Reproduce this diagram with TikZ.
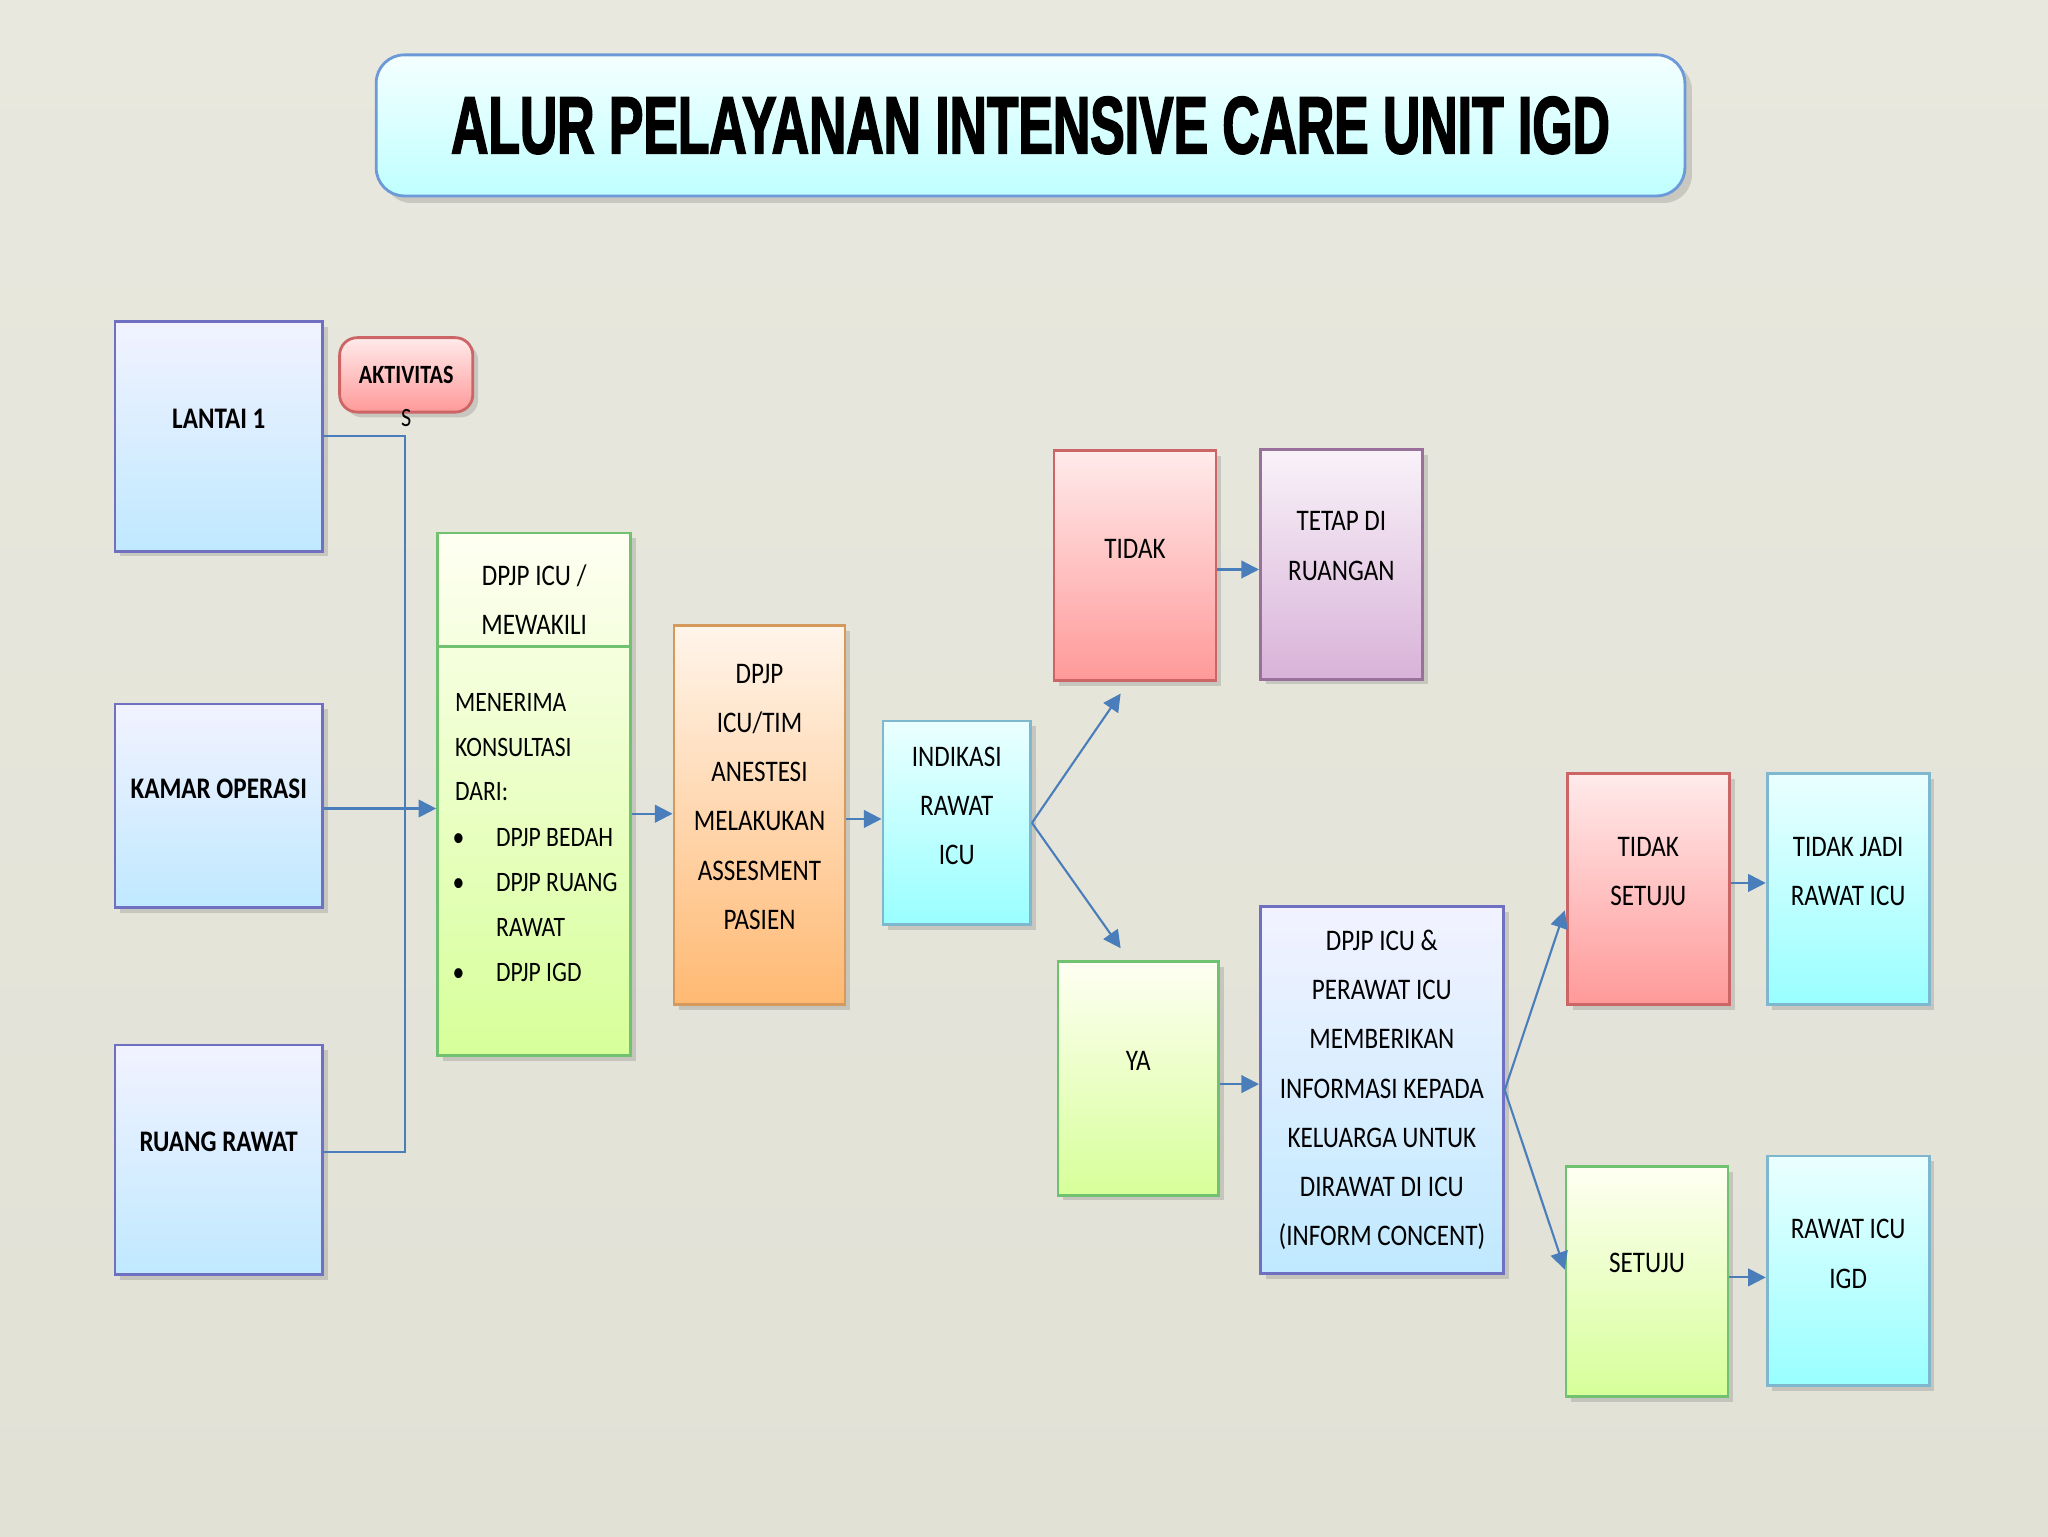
\documentclass[tikz,border=0pt]{standalone}
\usepackage{fontspec}
\setmainfont{Carlito}[FakeStretch=0.84]
\newfontfamily\titlefont{Liberation Sans}[FakeStretch=0.7,FakeBold=2]
\usetikzlibrary{arrows.meta,shadows}
\definecolor{edge}{HTML}{4A7EBB}
\definecolor{bgt}{HTML}{E9E8DE}
\definecolor{bgb}{HTML}{E2E1D6}
\tikzset{x=0.3716pt,y=-0.3716pt,
 sz/.style 2 args={minimum width=#1*0.3716pt,minimum height=#2*0.3716pt,inner sep=1pt},
 bx/.style={draw=#1,line width=0.8pt,drop shadow={opacity=0.3,shadow xshift=1.5pt,shadow yshift=-1.5pt}},
 blu/.style={bx=blue!40!gray!80,top color=blue!5!white,bottom color=blue!35!cyan!25!white},
 grn/.style={bx=green!40!gray!80,top color=green!5!yellow!5!white,bottom color=green!40!yellow!40!white},
 red/.style={bx=red!50!gray!80,top color=red!8!white,bottom color=red!40!white},
 cya/.style={bx=cyan!50!gray!80,top color=cyan!8!white,bottom color=cyan!40!white},
 pur/.style={bx=violet!40!gray!80,top color=violet!5!white,bottom color=violet!30!white},
 ora/.style={bx=orange!60!gray!80,top color=orange!8!white,bottom color=orange!55!white},
 txt/.style={align=center,font=\fontsize{8.5}{14}\selectfont},
 con/.style={draw=edge,line width=0.6pt},
 arr/.style={con,-{Triangle[length=5pt,width=5pt]}}}
\begin{document}
\begin{tikzpicture}
\shade[top color=bgt,bottom color=bgb] (0,0) rectangle (1568,1176);
\useasboundingbox (0,0) rectangle (1568,1176);
\node[draw=cyan!50!blue!60,line width=0.8pt,rounded corners=8pt,top color=cyan!4!white,bottom color=cyan!25!white,sz={1002}{108},drop shadow={opacity=0.3,shadow xshift=2pt,shadow yshift=-2pt}] (title) at (789,96) {\titlefont\bfseries\fontsize{21}{24}\selectfont\scalebox{1}[1.1]{ALUR PELAYANAN INTENSIVE CARE UNIT IGD}};
\node[blu,sz={159}{176},txt] (l1) at (167.5,334) {};
\node[txt,font=\fontsize{8.5}{14}\selectfont\bfseries] (l1t) at (167.5,321) {LANTAI 1};
\node[blu,sz={159}{156},txt] (ko) at (167.5,617) {};
\node[txt,font=\fontsize{8.5}{14}\selectfont\bfseries] (kot) at (167.5,604) {KAMAR OPERASI};
\node[blu,sz={159}{176},txt] (rr) at (167.5,888) {};
\node[txt,font=\fontsize{8.5}{14}\selectfont\bfseries] (rrt) at (167.5,874) {RUANG RAWAT};
\node[red,rounded corners=5pt,sz={102}{57}] (akt) at (311,287) {};
\node[font=\fontsize{7.5}{14}\selectfont\bfseries] (akt1) at (311,287) {AKTIVITAS};
\node[font=\fontsize{7.5}{14}\selectfont] (akt2) at (311,320) {S};
\node[grn,sz={148}{400}] (g) at (409,608) {};
\draw[green!40!gray!80,line width=0.8pt] (335,495) -- (483,495);
\node[txt] (gt) at (409,459) {DPJP ICU /\\MEWAKILI};
\node[align=left,anchor=north west,inner sep=0pt,font=\fontsize{8}{12.8}\selectfont] (gl) at (348,530) {MENERIMA\\KONSULTASI\\DARI:};
\node[align=left,anchor=north west,inner sep=0pt,font=\fontsize{8}{12.8}\selectfont] (gb) at (346,634) {\textbullet\hspace{9pt}DPJP BEDAH\\\textbullet\hspace{9pt}DPJP RUANG\\\hspace{12.4pt}RAWAT\\\textbullet\hspace{9pt}DPJP IGD};
\node[ora,sz={131}{290}] (o) at (581.5,624) {};
\node[txt] (ot) at (581.5,610) {DPJP\\ICU/TIM\\ANESTESI\\MELAKUKAN\\ASSESMENT\\PASIEN};
\node[cya,sz={113}{156},txt] (ind) at (732.5,630) {};
\node[txt] (indt) at (732.5,617) {INDIKASI\\RAWAT\\ICU};
\node[red,sz={124}{176}] (td) at (869,433) {};
\node[txt] (tdt) at (869,420) {TIDAK};
\node[pur,sz={124}{176}] (tr) at (1027,432) {};
\node[txt] (trt) at (1027,418) {TETAP DI\\RUANGAN};
\node[grn,sz={123}{179}] (ya) at (871.5,825.5) {};
\node[txt] (yat) at (871.5,812) {YA};
\node[blu,sz={186}{281}] (inf) at (1058,834.5) {};
\node[txt] (inft) at (1058,834.5) {DPJP ICU \&\\PERAWAT ICU\\MEMBERIKAN\\INFORMASI KEPADA\\KELUARGA UNTUK\\DIRAWAT DI ICU\\(INFORM CONCENT)};
\node[red,sz={124}{177}] (ts) at (1262,680.5) {};
\node[txt] (tst) at (1262,667) {TIDAK\\SETUJU};
\node[cya,sz={124}{177}] (tj) at (1415,680.5) {};
\node[txt] (tjt) at (1415,667) {TIDAK JADI\\RAWAT ICU};
\node[grn,sz={124}{176}] (st) at (1261,981) {};
\node[txt] (stt) at (1261,967) {SETUJU};
\node[cya,sz={124}{176}] (ri) at (1415,973) {};
\node[txt] (rit) at (1415,960) {RAWAT ICU\\IGD};
\coordinate (j1) at (310,334); \coordinate (j2) at (310,882);
\draw[con] (l1.east|-j1) -- (j1) -- (j2) -- (rr.east|-j2);
\draw[arr] (ko.east|-0,619) -- (g.west|-0,619);
\draw[arr] (g.east|-0,623) -- (o.west|-0,623);
\draw[arr] (o.east|-0,627) -- (ind.west|-0,627);
\coordinate (a1) at (858,531); \coordinate (a2) at (858,726);
\draw[arr] (ind.east) -- (a1);
\draw[arr] (ind.east) -- (a2);
\draw[arr] (td.east|-0,436) -- (tr.west|-0,436);
\draw[arr] (ya.east|-0,830) -- (inf.west|-0,830);
\coordinate (b1) at (1198,697); \coordinate (b2) at (1198,972);
\draw[arr] (inf.east) -- (b1);
\draw[arr] (inf.east) -- (b2);
\draw[arr] (ts.east|-0,676) -- (tj.west|-0,676);
\draw[arr] (st.east|-0,978) -- (ri.west|-0,978);
\end{tikzpicture}
\end{document}
